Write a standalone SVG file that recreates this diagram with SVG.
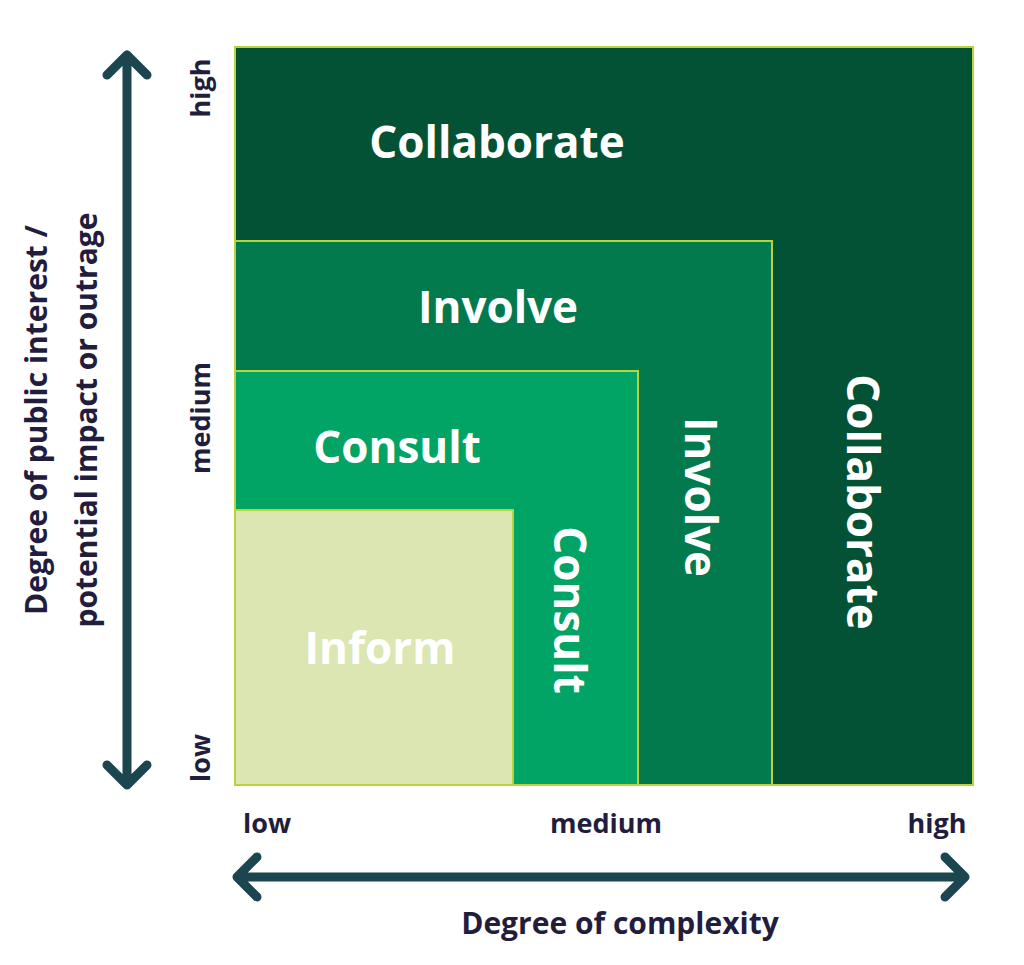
<svg xmlns="http://www.w3.org/2000/svg" width="1024" height="965" viewBox="0 0 1024 965">
<style>
.b{stroke:#b9d43a;stroke-width:2}
.t{font-family:"Open Sans","Noto Sans",sans-serif;font-weight:bold;fill:#fff;font-size:44px;text-anchor:middle;dominant-baseline:central}
.a{font-family:"Open Sans","Noto Sans",sans-serif;font-weight:bold;fill:#231d3d;font-size:27px;text-anchor:middle;dominant-baseline:central}
.ar{stroke:#1b4650;stroke-width:9;fill:none;stroke-linecap:round;stroke-linejoin:round}
</style>
<rect width="1024" height="965" fill="#fff"/>
<g id="collaborate"><rect class="b" x="235" y="47" width="738" height="738" fill="#035235"/>
<text class="t" x="497" y="141">Collaborate</text>
<text class="t" transform="translate(864,502) rotate(90)">Collaborate</text></g>
<g id="involve"><rect class="b" x="235" y="241" width="537" height="544" fill="#037a4d"/>
<text class="t" x="498" y="306">Involve</text>
<text class="t" transform="translate(702,497) rotate(90)">Involve</text></g>
<g id="consult"><rect class="b" x="235" y="371" width="403" height="414" fill="#02a466"/>
<text class="t" x="397" y="446">Consult</text>
<text class="t" transform="translate(571,610) rotate(90)">Consult</text></g>
<g id="inform"><rect class="b" x="235" y="510" width="278" height="275" fill="#dbe6b2"/>
<text class="t" x="380" y="647">Inform</text></g>
<g id="connectors">
<path class="ar" d="M127 55V785M107 75L127 55L147 75M107 765L127 785L147 765"/>
<path class="ar" d="M237 877H965M257 857L237 877L257 897M945 857L965 877L945 897"/>
</g>
<g id="axes">
<text class="a" transform="translate(199,88) rotate(-90)">high</text>
<text class="a" transform="translate(199,418) rotate(-90)">medium</text>
<text class="a" transform="translate(199,758) rotate(-90)">low</text>
<text class="a" style="font-size:30px" transform="translate(35,420) rotate(-90)">Degree of public interest /</text>
<text class="a" style="font-size:30px" transform="translate(85,420) rotate(-90)">potential impact or outrage</text>
<text class="a" x="267" y="822">low</text>
<text class="a" x="606" y="822">medium</text>
<text class="a" x="937" y="822">high</text>
<text class="a" style="font-size:30px" x="620" y="922">Degree of complexity</text>
</g>
</svg>
